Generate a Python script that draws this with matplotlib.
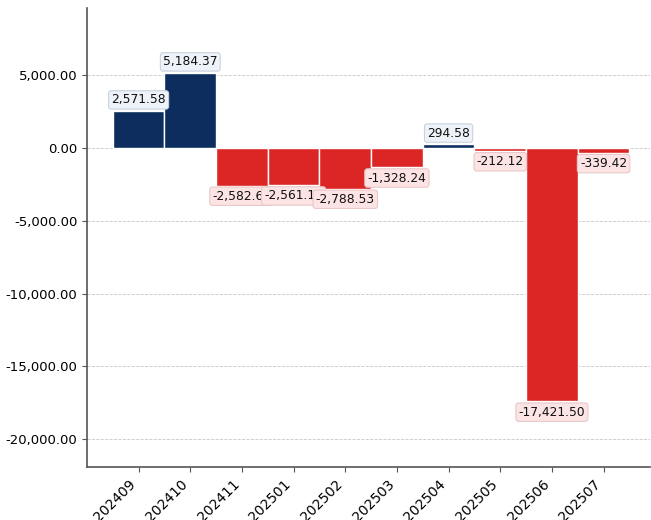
import matplotlib.pyplot as plt
import numpy as np
from matplotlib.ticker import FuncFormatter

months = ["202409", "202410", "202411", "202501", "202502",
          "202503", "202504", "202505", "202506", "202507"]
values = [2571.58, 5184.37, -2582.63, -2561.16, -2788.53,
          -1328.24, 294.58, -212.12, -17421.50, -339.42]

POS_COLOR = "#0c2d5e"
NEG_COLOR = "#dc2626"

fig = plt.figure(figsize=(6.51, 5.2), dpi=100)
ax = fig.add_axes([0.1336, 0.1019, 0.865, 0.8827])

x = np.arange(len(months))
colors = [POS_COLOR if v >= 0 else NEG_COLOR for v in values]
ax.bar(x, values, width=1.0, color=colors, edgecolor="white", linewidth=1.0, zorder=2)

for xi, v in zip(x, values):
    if v >= 0:
        box = dict(boxstyle="round,pad=0.22", fc="#eef3fa", ec="#c9d2de", lw=0.8)
        ax.annotate(f"{v:,.2f}", (xi, v), xytext=(0, 3), textcoords="offset points",
                    ha="center", va="bottom", fontsize=8.8, color="#111111",
                    bbox=box, zorder=3)
    else:
        box = dict(boxstyle="round,pad=0.22", fc="#fde4e4", ec="#e8c8c8", lw=0.8)
        ax.annotate(f"{v:,.2f}", (xi, v), xytext=(0, -3), textcoords="offset points",
                    ha="center", va="top", fontsize=8.8, color="#111111",
                    bbox=box, zorder=3)

ax.set_xlim(-1.0, 9.9)
ax.set_ylim(-21924, 9622)
ax.set_yticks(np.arange(-20000, 5001, 5000))
ax.yaxis.set_major_formatter(FuncFormatter(lambda v, _: f"{v:,.2f}"))
ax.set_xticks(x)
ax.set_xticklabels(months, rotation=45, ha="right")
ax.tick_params(axis="x", labelsize=10)
ax.tick_params(axis="y", labelsize=9.5)
ax.tick_params(axis="both", color="#555555", length=3.5)

ax.grid(axis="y", linestyle="--", linewidth=0.6, color="#c8c8c8", zorder=0)
ax.set_axisbelow(True)
for side in ("top", "right"):
    ax.spines[side].set_visible(False)
for side in ("left", "bottom"):
    ax.spines[side].set_color("#555555")
    ax.spines[side].set_linewidth(1.2)

fig.savefig("out.png", dpi=100)
